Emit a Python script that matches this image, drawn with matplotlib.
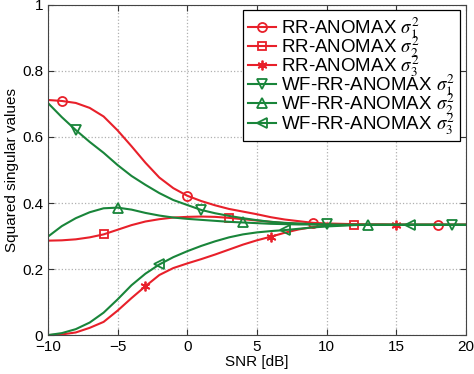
import numpy as np
import matplotlib
matplotlib.use('Agg')
import matplotlib.pyplot as plt

plt.rcParams['font.family'] = ['Liberation Sans', 'DejaVu Sans']
plt.rcParams['mathtext.fontset'] = 'stix'

# SNR axis in dB
snr = np.arange(-10, 21)

# squared singular values
rr_s1 = [0.712, 0.709, 0.703, 0.688, 0.662, 0.620, 0.572, 0.522, 0.477, 0.445,
         0.422, 0.406, 0.393, 0.382, 0.374, 0.366, 0.357, 0.350, 0.345, 0.340,
         0.338, 0.337, 0.336, 0.335, 0.335, 0.334, 0.334, 0.334, 0.334, 0.334, 0.334]
rr_s2 = [0.286, 0.287, 0.290, 0.296, 0.305, 0.319, 0.333, 0.344, 0.351, 0.356,
         0.358, 0.359, 0.358, 0.355, 0.351, 0.347, 0.343, 0.339, 0.337, 0.336,
         0.335, 0.334, 0.334, 0.334, 0.334, 0.334, 0.334, 0.334, 0.334, 0.334, 0.334]
rr_s3 = [0.000, 0.002, 0.008, 0.022, 0.040, 0.074, 0.112, 0.148, 0.182, 0.203,
         0.217, 0.230, 0.244, 0.259, 0.274, 0.287, 0.298, 0.310, 0.320, 0.327,
         0.331, 0.333, 0.334, 0.334, 0.334, 0.334, 0.334, 0.334, 0.334, 0.334, 0.334]
wf_s1 = [0.703, 0.660, 0.621, 0.585, 0.552, 0.515, 0.482, 0.455, 0.430, 0.409,
         0.394, 0.379, 0.369, 0.361, 0.354, 0.348, 0.343, 0.340, 0.338, 0.336,
         0.335, 0.334, 0.334, 0.334, 0.334, 0.334, 0.334, 0.334, 0.334, 0.334, 0.334]
wf_s2 = [0.298, 0.330, 0.354, 0.372, 0.384, 0.386, 0.380, 0.370, 0.362, 0.356,
         0.352, 0.349, 0.346, 0.343, 0.341, 0.339, 0.337, 0.336, 0.335, 0.335,
         0.334, 0.334, 0.334, 0.334, 0.334, 0.334, 0.334, 0.334, 0.334, 0.334, 0.334]
wf_s3 = [0.000, 0.006, 0.018, 0.038, 0.068, 0.108, 0.151, 0.186, 0.214, 0.236,
         0.254, 0.270, 0.284, 0.296, 0.305, 0.311, 0.315, 0.318, 0.322, 0.326,
         0.329, 0.331, 0.333, 0.334, 0.334, 0.334, 0.334, 0.334, 0.334, 0.334, 0.334]

labels = ['RR-ANOMAX $\\sigma_1^2$', 'RR-ANOMAX $\\sigma_2^2$', 'RR-ANOMAX $\\sigma_3^2$',
          'WF-RR-ANOMAX $\\sigma_1^2$', 'WF-RR-ANOMAX $\\sigma_2^2$', 'WF-RR-ANOMAX $\\sigma_3^2$']

red = '#e8202a'
green = '#19853a'

fig = plt.figure(figsize=(4.74, 3.74), dpi=100)
ax = fig.add_axes([0.101, 0.104, 0.882, 0.883])

series = [
    (rr_s1, red, 'o', 6.5, 1),
    (rr_s2, red, 's', 5.5, 4),
    (rr_s3, red, (6, 2, 0), 7, 7),
    (wf_s1, green, 'v', 6.5, 2),
    (wf_s2, green, '^', 6.5, 5),
    (wf_s3, green, '<', 6.5, 8),
]
for (vals, col, mk, ms, start), lab in zip(series, labels):
    ax.plot(snr, vals, color=col, lw=1.5, marker=mk, markevery=slice(start, None, 9),
            markersize=ms, markerfacecolor='none',
            markeredgecolor=col, markeredgewidth=1.3, label=lab)

ax.set_xlim(-10, 20)
ax.set_ylim(0, 1)
ax.set_xticks(np.arange(-10, 21, 5))
ax.set_yticks(np.arange(0, 1.01, 0.2))
ax.set_yticklabels(['0', '0.2', '0.4', '0.6', '0.8', '1'])
ax.tick_params(direction='in', top=True, right=True, labelsize=11, length=4, colors='#333333')
for lbl in ax.get_xticklabels() + ax.get_yticklabels():
    lbl.set_color('black')
for s in ax.spines.values():
    s.set_color('#444444')
ax.grid(True, linestyle=':', color='#b0b0b0', lw=0.9)
ax.set_xlabel('SNR [dB]', fontsize=11, labelpad=1)
ax.set_ylabel('Squared singular values', fontsize=11, labelpad=2)

leg = ax.legend(loc='upper right', fontsize=13.5, handlelength=1.5, labelspacing=-0.35,
                handletextpad=0.3, borderpad=0.25, borderaxespad=0.3, fancybox=False,
                framealpha=1)
leg.get_frame().set_edgecolor('black')
leg.get_frame().set_linewidth(0.9)

fig.savefig('out.png', dpi=100)
